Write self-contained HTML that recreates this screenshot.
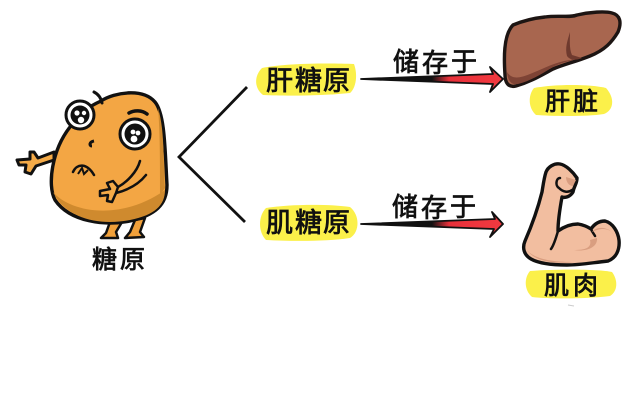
<!DOCTYPE html>
<html><head><meta charset="utf-8"><style>
html,body{margin:0;padding:0;background:#fff}
svg{display:block}
text{font-family:"Liberation Sans","WenQuanYi Zen Hei","Noto Sans CJK SC",sans-serif;fill:#111;stroke:#111;stroke-width:.8}
</style></head><body>
<svg width="640" height="409" viewBox="0 0 640 409" xmlns="http://www.w3.org/2000/svg">
<defs>
<linearGradient id="g1" x1="0" x2="1" y1="0" y2="0"><stop offset="0" stop-color="#111"/><stop offset=".5" stop-color="#111"/><stop offset=".62" stop-color="#e8303a"/><stop offset="1" stop-color="#f23a40"/></linearGradient>
</defs>
<rect width="640" height="409" fill="#fff"/>
<!-- legs -->
<path d="M110,222 L106,233 L101,238 L118,238 L116,232 L122,222Z M135,220 L130,232 L125,238 L144,237 L140,232 L145,218Z" fill="#f0a03a" stroke="#111" stroke-width="2.5" stroke-linejoin="round"/>
<!-- left arm -->
<path d="M54,152 L38,158 L34,152 L30,152 L30,159 L17,160 L19,165 L26,165 L25,172 L31,174 L36,166 L54,160Z" fill="#f5ab48" stroke="#111" stroke-width="3" stroke-linejoin="round"/>
<!-- body -->
<path d="M101,101 C115,92 143,88 155,102 C165,114 165,150 167,185 C167,205 155,215 130,221 C105,226 70,222 55,200 C47,185 52,150 70,127 C80,112 90,106 101,101Z" fill="#f3a644" stroke="#111" stroke-width="3.4"/>
<path d="M53,192 C70,212 120,222 165,190 C165,205 155,215 130,220 C105,225 68,222 53,192Z" fill="#cf8a2e"/>
<path d="M158,108 C165,130 163,165 165,188 L160,195 C160,165 160,130 158,108Z" fill="#cf8a2e"/>
<path d="M94,92 C98,94 101,98 102,103" fill="none" stroke="#111" stroke-width="3" stroke-linecap="round"/>
<path d="M129,113 C134,110 142,110 147,114" fill="none" stroke="#111" stroke-width="3.5" stroke-linecap="round"/>
<!-- eyes -->
<circle cx="80" cy="115" r="14" fill="#fff" stroke="#111" stroke-width="3"/>
<circle cx="80" cy="115" r="9.5" fill="#111"/>
<circle cx="77" cy="113" r="2.6" fill="#fff"/><circle cx="84" cy="113" r="2.2" fill="#fff"/><circle cx="81" cy="120" r="3.2" fill="#fff"/>
<circle cx="135" cy="134" r="15" fill="#fff" stroke="#111" stroke-width="3"/>
<circle cx="135" cy="134" r="10.5" fill="#111"/>
<circle cx="133" cy="132" r="2.4" fill="#fff"/><circle cx="138" cy="133" r="2.4" fill="#fff"/><circle cx="134" cy="139" r="3.4" fill="#fff"/>
<path d="M94,141 C89,142 89,146 92,146" fill="none" stroke="#111" stroke-width="3"/>
<!-- mouth -->
<path d="M73,172 C77,163 87,163 94,175" fill="none" stroke="#111" stroke-width="2.5" stroke-linecap="round"/>
<path d="M78,174 L82,168 L84,174 L88,170" fill="none" stroke="#111" stroke-width="2"/>
<!-- right arm -->
<path d="M140,161 C137,172 127,182 118,187" fill="none" stroke="#111" stroke-width="2.5" stroke-linecap="round"/>
<path d="M146,175 C138,185 128,190 116,193" fill="none" stroke="#111" stroke-width="2.5" stroke-linecap="round"/>
<path d="M118,187 L113,181 L107,183 L110,189 L100,191 L100,196 L108,195 L107,201 L112,202 L116,193Z" fill="#f5ab48" stroke="#111" stroke-width="2.5" stroke-linejoin="round"/>
<text x="92" y="268" font-size="25">糖</text><text x="120" y="268" font-size="25">原</text>
<!-- V -->
<path d="M247,87 L179,157 L245,222" fill="none" stroke="#111" stroke-width="2.8"/>
<!-- highlights -->
<path d="M262,68 C285,63 330,63 354,64 C358,75 356,88 350,93 C320,96 285,96 263,95 C254,88 254,76 262,68Z" fill="#fbf04a"/>
<path d="M266,208 C290,204 330,204 350,207 C360,215 360,232 350,238 C325,242 285,241 266,240 C258,232 258,216 266,208Z" fill="#fbf04a"/>
<path d="M534,88 C555,84 590,84 606,88 C615,98 614,110 604,114 C585,117 550,116 536,115 C528,108 528,95 534,88Z" fill="#fbf04a"/>
<path d="M530,271 C555,269 600,269 612,272 C618,280 618,291 610,296 C585,299 550,299 532,297 C524,290 524,278 530,271Z" fill="#fbf04a"/>
<!-- labels -->
<text x="266" y="90" font-size="27">肝</text><text x="295" y="90" font-size="27">糖</text><text x="323" y="90" font-size="27">原</text>
<text x="266" y="232" font-size="27">肌</text><text x="295" y="232" font-size="27">糖</text><text x="323" y="232" font-size="27">原</text>
<text x="393" y="71" font-size="26">储</text><text x="422" y="72" font-size="26">存</text><text x="451" y="71" font-size="26">于</text>
<text x="392" y="216" font-size="26">储</text><text x="421" y="217" font-size="26">存</text><text x="450" y="216" font-size="26">于</text>
<text x="545" y="110" font-size="25">肝</text><text x="573" y="110" font-size="25">脏</text>
<text x="544" y="294" font-size="25">肌</text><text x="573" y="294" font-size="25">肉</text>
<!-- arrows -->
<path d="M361,79 L493,74 L490,67 L503,79 L490,92 L493,84 Z" fill="url(#g1)" stroke="#111" stroke-width="1.8" stroke-linejoin="round"/>
<path d="M361,224 L495,219 L492,212 L503,224 L490,237 L494,229 Z" fill="url(#g1)" stroke="#111" stroke-width="1.8" stroke-linejoin="round"/>
<!-- liver -->
<path d="M513,25 C525,20 535,18 545,17 C560,15 570,18 577,15 C590,12 605,11 612,13 C620,15 622,22 618,32 C612,42 605,50 590,56 C575,62 565,64 553,69 C540,76 530,82 516,86 C508,88 505,82 505,75 C504,60 503,35 513,25Z" fill="#a8664f" stroke="#1d1513" stroke-width="3.4"/>
<path d="M507,72 C508,82 512,85 518,84 C530,81 540,75 553,67 C560,63 570,61 580,58 L570,60 C555,62 545,68 530,74 C520,78 512,80 507,72Z" fill="#7e4335"/>
<path d="M570,32 C567,42 565,48 567,56 C570,60 575,61 582,58 L572,55 C569,48 570,40 570,32Z" fill="#6f3a2e"/>
<!-- arm -->
<path d="M560,164 C566,165 573,172 577,178 C577,184 574,186 573,192 C570,197 565,198 562,197 C560,208 558,220 558,231 C565,226 572,224 578,224 C584,225 588,227 591,229 C595,223 600,221 605,221 C613,223 618,232 619,240 C620,250 616,258 608,261 C590,263 580,265 567,265 C550,265 538,263 531,259 C524,255 522,248 525,241 C532,225 538,208 542,192 C543,186 544,178 546,172 C548,167 554,163 560,164Z" fill="#f2bea0" stroke="#111" stroke-width="3.4" stroke-linejoin="round"/>
<path d="M558,231 C556,238 554,245 551,249" fill="none" stroke="#111" stroke-width="2.5" stroke-linecap="round"/>
<path d="M591,229 C592,232 594,234 595,236" fill="none" stroke="#111" stroke-width="2.5" stroke-linecap="round"/>
<path d="M592,232 C596,226 610,226 614,236 C612,230 604,226 592,232Z M590,240 C592,248 585,250 574,250 C585,252 598,248 597,238Z" fill="#d99e80"/>
<path d="M560,178 C556,178 555,186 559,188 C563,192 568,193 572,190" fill="none" stroke="#111" stroke-width="2.5" stroke-linecap="round"/>
<path d="M566,177 L576,180 L573,186 C569,186 566,182 566,177Z" fill="#d99e80"/>
<path d="M527,250 C535,260 555,262 575,262 C555,264 535,262 527,250Z" fill="#d99e80"/>
<path d="M568,305 L574,306" stroke="#ccc" stroke-width="1"/>
</svg>
</body></html>
